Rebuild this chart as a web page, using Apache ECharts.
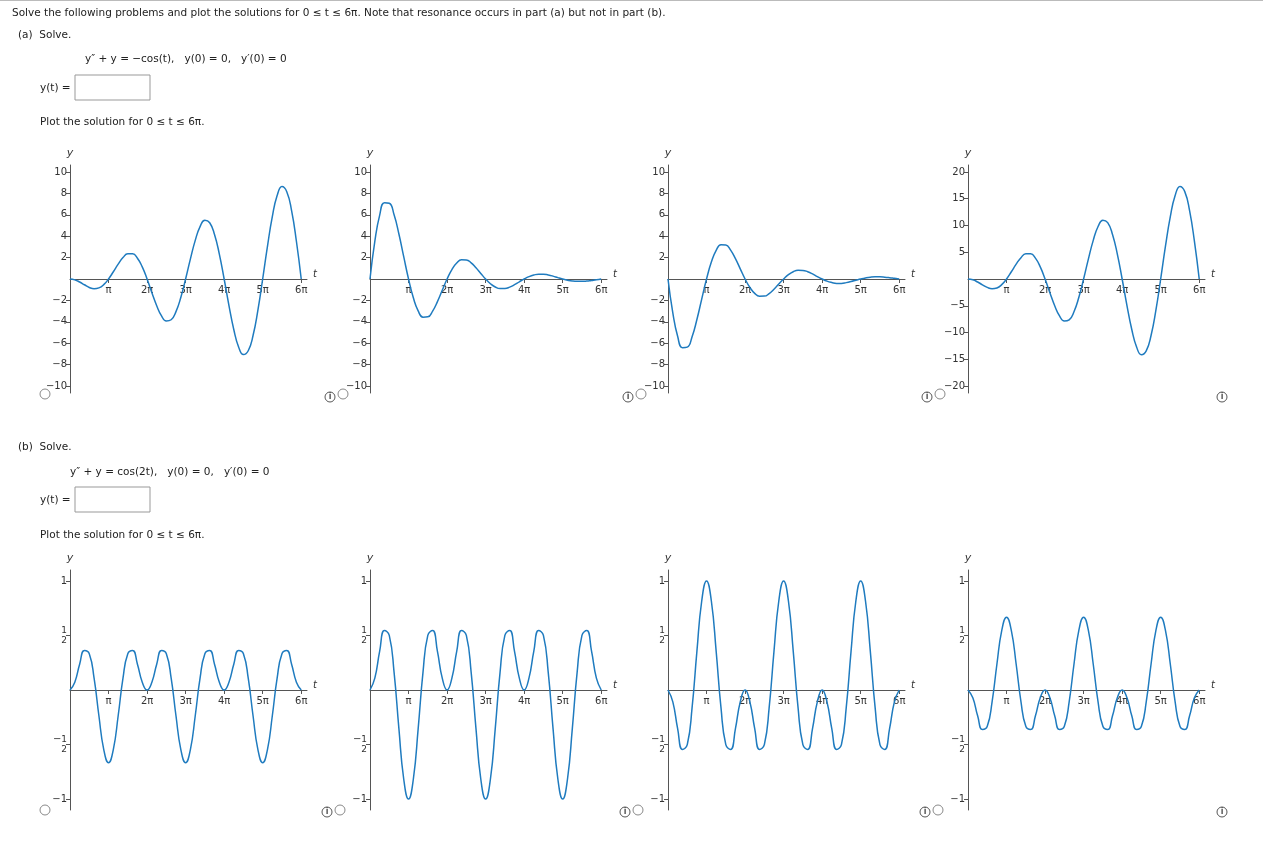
<!DOCTYPE html>
<html><head><meta charset="utf-8">
<script src="https://cdn.jsdelivr.net/npm/echarts@6/dist/echarts.min.js"></script>
<style>html,body{margin:0;padding:0;background:#fff}#c{width:1263px;height:848px}</style>
</head><body><div id="c"></div>
<script>
// t values in units of pi, step pi/8, 0..6pi
const tPi = Array.from({length:49},(_,k)=>k/8);
const a1 = [0,-0.08,-0.28,-0.54,-0.79,-0.91,-0.83,-0.53,0,0.68,1.39,2.0,2.36,2.36,1.94,1.13,0,-1.28,-2.5,-3.45,-3.93,-3.81,-3.05,-1.73,0,1.88,3.61,4.9,5.5,5.26,4.16,2.33,0,-2.48,-4.72,-6.35,-7.07,-6.71,-5.28,-2.93,0,3.08,5.83,7.8,8.64,8.16,6.39,3.53,0];
const a2 = [0,3.51,5.95,7.13,7.08,6.0,4.21,2.09,0,-1.76,-2.98,-3.57,-3.54,-3.0,-2.11,-1.05,0,0.88,1.49,1.79,1.78,1.51,1.05,0.52,0,-0.44,-0.75,-0.9,-0.89,-0.76,-0.53,-0.26,0,0.22,0.37,0.45,0.45,0.38,0.27,0.13,0,-0.11,-0.19,-0.22,-0.22,-0.19,-0.13,-0.07,0];
const a3 = [0,-3.16,-5.36,-6.42,-6.37,-5.4,-3.79,-1.88,0,1.58,2.68,3.21,3.19,2.7,1.9,0.95,0,-0.79,-1.34,-1.61,-1.6,-1.36,-0.95,-0.47,0,0.4,0.68,0.81,0.8,0.68,0.48,0.23,0,-0.2,-0.33,-0.41,-0.41,-0.34,-0.24,-0.12,0,0.1,0.17,0.2,0.2,0.17,0.12,0.06,0];
const a4 = [0,-0.15,-0.56,-1.09,-1.57,-1.81,-1.67,-1.05,0,1.35,2.78,3.99,4.71,4.72,3.89,2.26,0,-2.56,-5.0,-6.89,-7.85,-7.62,-6.11,-3.46,0,3.76,7.22,9.8,11.0,10.52,8.33,4.66,0,-4.96,-9.44,-12.7,-14.14,-13.43,-10.55,-5.87,0,6.17,11.66,15.6,17.28,16.33,12.77,7.07,0];
const b1 = [0,.072,.236,.363,.333,.108,-.236,-.544,-.667,-.544,-.236,.108,.333,.363,.236,.072,0,.072,.236,.363,.333,.108,-.236,-.544,-.667,-.544,-.236,.108,.333,.363,.236,.072,0,.072,.236,.363,.333,.108,-.236,-.544,-.667,-.544,-.236,.108,.333,.363,.236,.072,0];
const b2 = [0,.109,.354,.545,.5,.162,-.354,-.816,-1,-.816,-.354,.162,.5,.545,.354,.109,0,.109,.354,.545,.5,.162,-.354,-.816,-1,-.816,-.354,.162,.5,.545,.354,.109,0,.109,.354,.545,.5,.162,-.354,-.816,-1,-.816,-.354,.162,.5,.545,.354,.109,0];
const b3 = b2.map(v=>-v);
const b4 = b1.map(v=>-v);
const xTicks = [1,2,3,4,5,6];
const yTicksA = [-10,-8,-6,-4,-2,2,4,6,8,10];
const yTicksA4 = [-20,-15,-10,-5,5,10,15,20];
const yTicksB = [-1,-0.5,0.5,1];

const lefts = [70,370,668,968];
const charts = [
 {row:0,col:0,data:a1,ticks:yTicksA,lim:10.66},
 {row:0,col:1,data:a2,ticks:yTicksA,lim:10.66},
 {row:0,col:2,data:a3,ticks:yTicksA,lim:10.66},
 {row:0,col:3,data:a4,ticks:yTicksA4,lim:21.3},
 {row:1,col:0,data:b1,ticks:yTicksB,lim:1.1},
 {row:1,col:1,data:b2,ticks:yTicksB,lim:1.1},
 {row:1,col:2,data:b3,ticks:yTicksB,lim:1.1},
 {row:1,col:3,data:b4,ticks:yTicksB,lim:1.1}
];
const F = 'DejaVu Sans';
const grid=[],xAxis=[],yAxis=[],series=[];
const frac = v => v===0.5?'{n|1}\n{d|2}':v===-0.5?'{m|−}{f|1\n2}':(v<0?'−'+(-v):''+v);
charts.forEach((c,i)=>{
  const top = c.row===0?165:570;
  const h = c.row===0?228:240;
  grid.push({left:lefts[c.col],top:top,width:237,height:h});
  xAxis.push({type:'value',gridIndex:i,min:0,max:6.15,position:'bottom',offset:-h/2,
    axisLine:{onZero:false,lineStyle:{color:'#555',width:1}},
    axisTick:{customValues:xTicks,length:4,inside:false,lineStyle:{color:'#555'}},
    axisLabel:{customValues:xTicks,formatter:v=>v===1?'π':v+'π',fontSize:10,fontFamily:F,color:'#333',margin:6},
    splitLine:{show:false},name:'t',nameGap:6,nameTextStyle:{fontStyle:'italic',fontSize:10,fontFamily:F,color:'#333',verticalAlign:'bottom'}});
  yAxis.push({type:'value',gridIndex:i,min:-c.lim,max:c.lim,
    axisLine:{onZero:false,lineStyle:{color:'#555',width:1}},
    axisTick:{customValues:c.ticks,length:4,lineStyle:{color:'#555'}},
    axisLabel:{customValues:c.ticks,formatter:c.row===1?frac:(v=>v<0?'−'+(-v):''+v),fontSize:10,fontFamily:F,color:'#333',margin:3,
      rich:{n:{fontSize:9,lineHeight:10,fontFamily:F,color:'#333'},d:{fontSize:9,lineHeight:10,fontFamily:F,color:'#333'},f:{fontSize:9,lineHeight:10,fontFamily:F,color:'#333'},m:{fontSize:10,fontFamily:F,color:'#333'}}},
    splitLine:{show:false},name:'y',nameGap:6,nameTextStyle:{fontStyle:'italic',fontSize:11,fontFamily:F,color:'#333'}});
  series.push({type:'line',xAxisIndex:i,yAxisIndex:i,smooth:true,showSymbol:false,
    data:tPi.map((t,k)=>[t,c.data[k]]),lineStyle:{color:'#1f7bbf',width:1.5},silent:true});
});
const txt=(x,y,s,o={})=>({type:'text',left:x,top:y,style:Object.assign({text:s,font:'10.5px "DejaVu Sans"',fill:'#222'},o)});
const radio=(x,y)=>({type:'circle',shape:{cx:x,cy:y,r:5},style:{fill:'#fff',stroke:'#888',lineWidth:1}});
const info=(x,y)=>[{type:'circle',shape:{cx:x,cy:y,r:5},style:{fill:'#fff',stroke:'#555',lineWidth:1}},
  {type:'text',x:x,y:y,style:{text:'i',font:'bold 8px "DejaVu Sans"',fill:'#555',align:'center',verticalAlign:'middle'}}];
const g=[
 {type:'rect',shape:{x:0,y:0,width:1263,height:1},style:{fill:'#bbb'}},
 txt(12,8,'Solve the following problems and plot the solutions for 0 ≤ t ≤ 6π. Note that resonance occurs in part (a) but not in part (b).'),
 txt(18,30,'(a)  Solve.'),
 txt(85,54,'y″ + y = −cos(t),   y(0) = 0,   y′(0) = 0'),
 txt(40,83,'y(t) ='),
 {type:'rect',shape:{x:75,y:75,width:75,height:25},style:{fill:'#fff',stroke:'#999'}},
 txt(40,117,'Plot the solution for 0 ≤ t ≤ 6π.'),
 txt(18,442,'(b)  Solve.'),
 txt(70,467,'y″ + y = cos(2t),   y(0) = 0,   y′(0) = 0'),
 txt(40,495,'y(t) ='),
 {type:'rect',shape:{x:75,y:487,width:75,height:25},style:{fill:'#fff',stroke:'#999'}},
 txt(40,530,'Plot the solution for 0 ≤ t ≤ 6π.'),
 radio(45,394),radio(343,394),radio(641,394),radio(940,394),
 radio(45,810),radio(340,810),radio(638,810),radio(938,810),
 ...info(330,397),...info(628,397),...info(927,397),...info(1222,397),
 ...info(327,812),...info(625,812),...info(925,812),...info(1222,812)
];
const chart=echarts.init(document.getElementById('c'));
chart.setOption({animation:false,grid,xAxis,yAxis,series,graphic:g});
</script></body></html>
